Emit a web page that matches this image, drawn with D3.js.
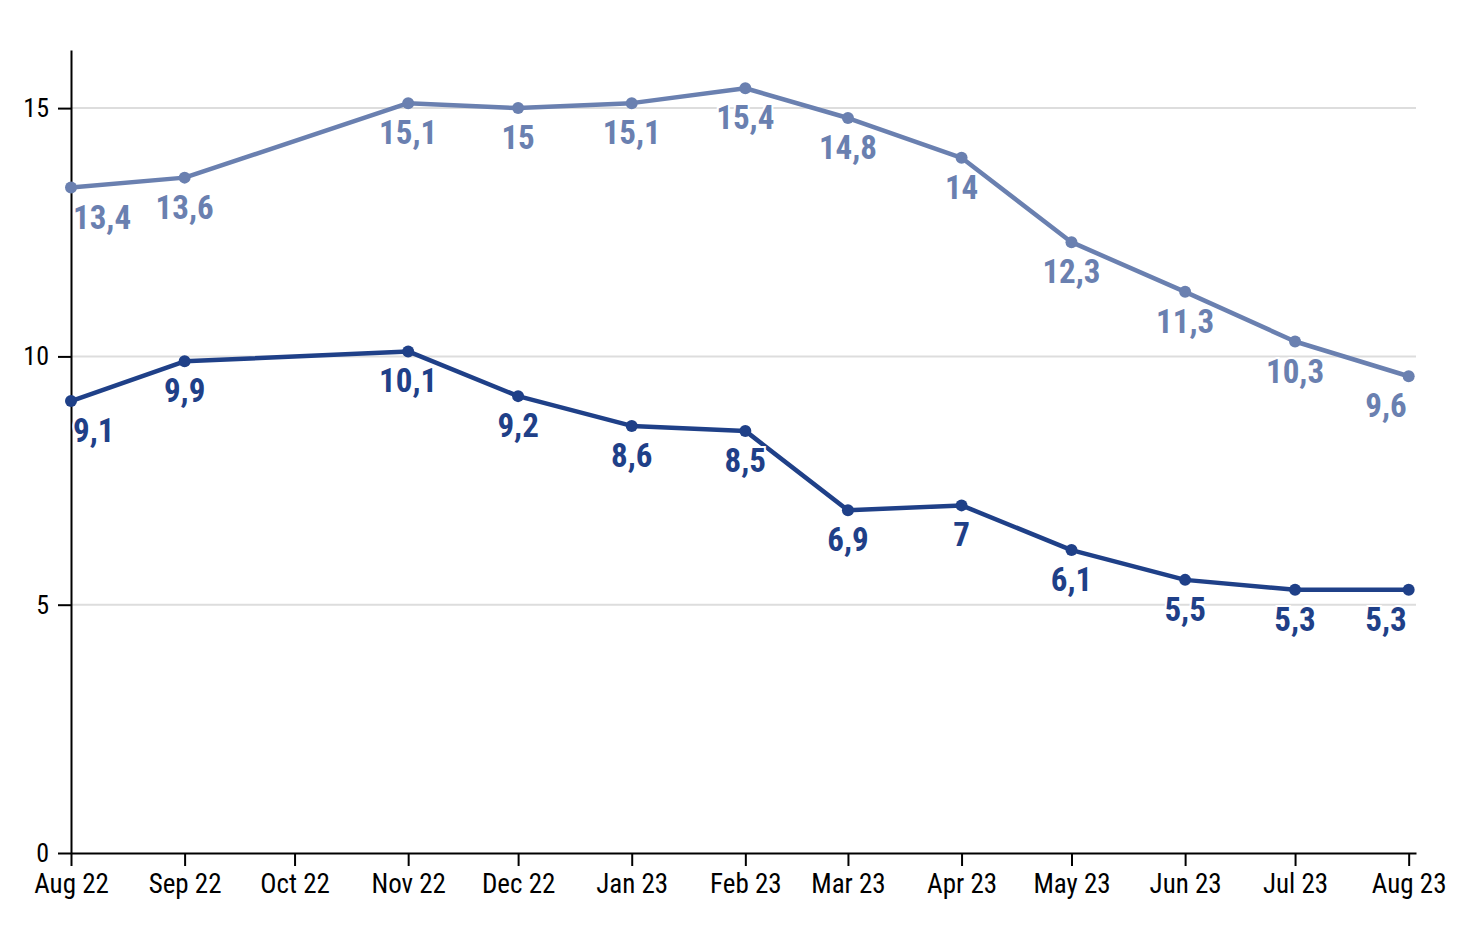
<!DOCTYPE html>
<html lang="en">
<head>
    <meta charset="UTF-8">
    <title>Line Chart</title>
    <style>
        body { margin: 0; background: #fff; }
        svg text { font-family: "Roboto Condensed", "Roboto", sans-serif; font-stretch: condensed; }
        .tick line { stroke: #000; stroke-width: 2; }
        .domain { stroke: #000; stroke-width: 2; }
        .grid line { stroke: #dddddd; stroke-width: 2; }
    </style>
</head>
<body>
<script src="https://d3js.org/d3.v7.min.js"></script>
<script>
    var months = ["2022-08", "2022-09", "2022-11", "2022-12", "2023-01", "2023-02",
                  "2023-03", "2023-04", "2023-05", "2023-06", "2023-07", "2023-08"];
    var seriesLight = [13.4, 13.6, 15.1, 15, 15.1, 15.4, 14.8, 14, 12.3, 11.3, 10.3, 9.6];
    var seriesDark = [9.1, 9.9, 10.1, 9.2, 8.6, 8.5, 6.9, 7, 6.1, 5.5, 5.3, 5.3];
    var yTicks = [0, 5, 10, 15];

    var width = 1476,
        height = 933,
        left = 71,
        right = 1416,
        bottom = 853;

    var parse = d3.timeParse("%Y-%m");
    var dates = months.map(parse);

    var svg = d3.select("body")
        .append("svg")
        .attr("width", width)
        .attr("height", height);

    var x = d3.scaleTime()
        .domain([dates[0], d3.timeDay.offset(dates[dates.length - 1], 2)])
        .range([left, right]);

    var yMax = d3.max(seriesLight.concat(seriesDark)) * 1.05;
    var y = d3.scaleLinear()
        .domain([0, yMax])
        .range([bottom, 50]);

    // grid lines
    svg.append("g")
        .attr("class", "grid")
        .selectAll("line")
        .data(yTicks.filter(function (d) { return d > 0; }))
        .enter()
        .append("line")
        .attr("x1", left)
        .attr("x2", right)
        .attr("y1", function (d) { return y(d); })
        .attr("y2", function (d) { return y(d); });

    var xAxis = svg.append("g")
        .attr("transform", "translate(0," + bottom + ")")
        .call(d3.axisBottom(x)
            .ticks(d3.timeMonth.every(1))
            .tickSize(13)
            .tickSizeOuter(0)
            .tickFormat(d3.timeFormat("%b %y")));
    xAxis.selectAll("text")
        .attr("y", 21)
        .attr("dy", "0.71em")
        .style("font-size", "27px")
        .attr("fill", "#000");

    var yAxis = svg.append("g")
        .attr("transform", "translate(" + left + ",0)")
        .call(d3.axisLeft(y)
            .tickValues(yTicks)
            .tickSize(13)
            .tickSizeOuter(0));
    yAxis.selectAll("text")
        .attr("x", -22)
        .style("font-size", "26px")
        .attr("fill", "#000");

    var series = [
        {values: seriesLight, color: "#6a80b0"},
        {values: seriesDark, color: "#1f4088"}
    ];

    var line = d3.line()
        .x(function (d) { return x(d.date); })
        .y(function (d) { return y(d.value); });

    series.forEach(function (s) {
        var pts = s.values.map(function (v, i) { return {date: dates[i], value: v}; });
        var g = svg.append("g");

        g.append("path")
            .datum(pts)
            .attr("fill", "none")
            .attr("stroke", s.color)
            .attr("stroke-width", 4.5)
            .attr("stroke-linejoin", "round")
            .attr("d", line);

        g.selectAll("circle")
            .data(pts)
            .enter()
            .append("circle")
            .attr("cx", function (d) { return x(d.date); })
            .attr("cy", function (d) { return y(d.value); })
            .attr("r", 6)
            .attr("fill", s.color);

        var xLo = x(dates[0]), xHi = x(dates[dates.length - 1]);
        g.selectAll("text")
            .data(pts)
            .enter()
            .append("text")
            .attr("x", function (d) { return x(d.date); })
            .attr("y", function (d) { return y(d.value) + 41; })
            .attr("text-anchor", "middle")
            .style("font-size", "33px")
            .style("font-weight", "bold")
            .attr("fill", s.color)
            .attr("stroke", "#fff")
            .attr("stroke-width", 4)
            .attr("paint-order", "stroke")
            .text(function (d) { return String(d.value).replace(".", ","); })
            .each(function () {
                // keep labels inside the plot edges
                var b = this.getBBox();
                var cx = +this.getAttribute("x");
                if (b.x < xLo + 2) this.setAttribute("x", cx + (xLo + 2 - b.x));
                if (b.x + b.width > xHi - 2) this.setAttribute("x", cx - (b.x + b.width - xHi + 2));
            });
    });
</script>
</body>
</html>
